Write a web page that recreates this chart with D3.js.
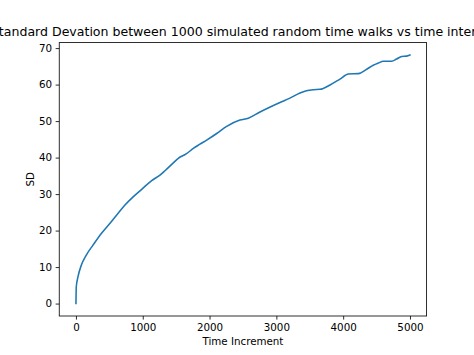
<!DOCTYPE html>
<html><head><meta charset="utf-8">
<script src="https://cdn.jsdelivr.net/npm/d3@7"></script>
<style>
html,body{margin:0;padding:0;background:#fff;}
svg text{font-family:"DejaVu Sans",sans-serif;fill:#000;}
</style></head>
<body><svg id="c" width="474" height="355"></svg>
<script>
const timeSteps = [0,5,30,80,155,255,380,510,620,734,860,984,1134,1258,1333,1450,1532,1650,1757,1850,1957,2107,2250,2455,2580,2755,2900,3054,3204,3354,3450,3553,3653,3803,3952,4077,4227,4352,4450,4526,4601,4726,4800,4876,4950,4999];
const sdValues = [0,4.6,7.3,10.5,13.3,16.0,19.2,22.0,24.5,27.0,29.3,31.3,33.7,35.2,36.4,38.4,39.8,41.0,42.5,43.6,44.8,46.6,48.5,50.3,50.8,52.5,53.8,55.1,56.3,57.7,58.3,58.6,58.7,59.9,61.5,62.9,63.0,64.2,65.3,65.9,66.4,66.4,67.0,67.7,67.8,68.1];
const xTicks = [0,1000,2000,3000,4000,5000];
const yTicks = [0,10,20,30,40,50,60,70];
const titleText = "Standard Devation between 1000 simulated random time walks vs time interval";
const xLabel = "Time Increment";
const yLabel = "SD";

const W=474,H=355;
const L=59.25,R=426.6,T=42.6,B=316;
const svg=d3.select("#c");
const xmin=d3.min(timeSteps),xmax=d3.max(timeSteps),ymin=d3.min(sdValues),ymax=d3.max(sdValues);
const xm=(xmax-xmin)*0.05,ym=(ymax-ymin)*0.05;
const x=d3.scaleLinear().domain([xmin-xm,xmax+xm]).range([L,R]);
const y=d3.scaleLinear().domain([ymin-ym,ymax+ym]).range([B,T]);

const data=timeSteps.map((t,i)=>[t,sdValues[i]]);
svg.append("path").datum(data)
  .attr("d",d3.line().x(d=>x(d[0])).y(d=>y(d[1])).curve(d3.curveMonotoneX))
  .attr("fill","none").attr("stroke","#1f77b4").attr("stroke-width",1.55)
  .attr("stroke-linejoin","round").attr("stroke-linecap","square");

const fs="10.3px";
const xa=svg.append("g").attr("transform",`translate(0,${B})`)
  .call(d3.axisBottom(x).tickValues(xTicks).tickSize(3.6).tickPadding(3.6).tickFormat(d3.format("d")));
const ya=svg.append("g").attr("transform",`translate(${L},0)`)
  .call(d3.axisLeft(y).tickValues(yTicks).tickSize(3.6).tickPadding(3.6).tickFormat(d3.format("d")));
[xa,ya].forEach(a=>{a.select(".domain").remove();
  a.selectAll("line").attr("stroke","#000").attr("stroke-width",0.82);
  a.selectAll("text").style("font-size",fs).attr("fill","#000").style("font-family","DejaVu Sans");});

svg.append("rect").attr("x",L).attr("y",T).attr("width",R-L).attr("height",B-T)
  .attr("fill","none").attr("stroke","#000").attr("stroke-width",0.82);

svg.append("text").attr("x",(L+R)/2).attr("y",36.2).attr("text-anchor","middle")
  .style("font-size","12.55px").text(titleText);
svg.append("text").attr("x",(L+R)/2).attr("y",345).attr("text-anchor","middle")
  .style("font-size",fs).text(xLabel);
svg.append("text").attr("transform",`translate(33.5,${(T+B)/2}) rotate(-90)`).attr("text-anchor","middle")
  .style("font-size",fs).text(yLabel);
</script></body></html>
